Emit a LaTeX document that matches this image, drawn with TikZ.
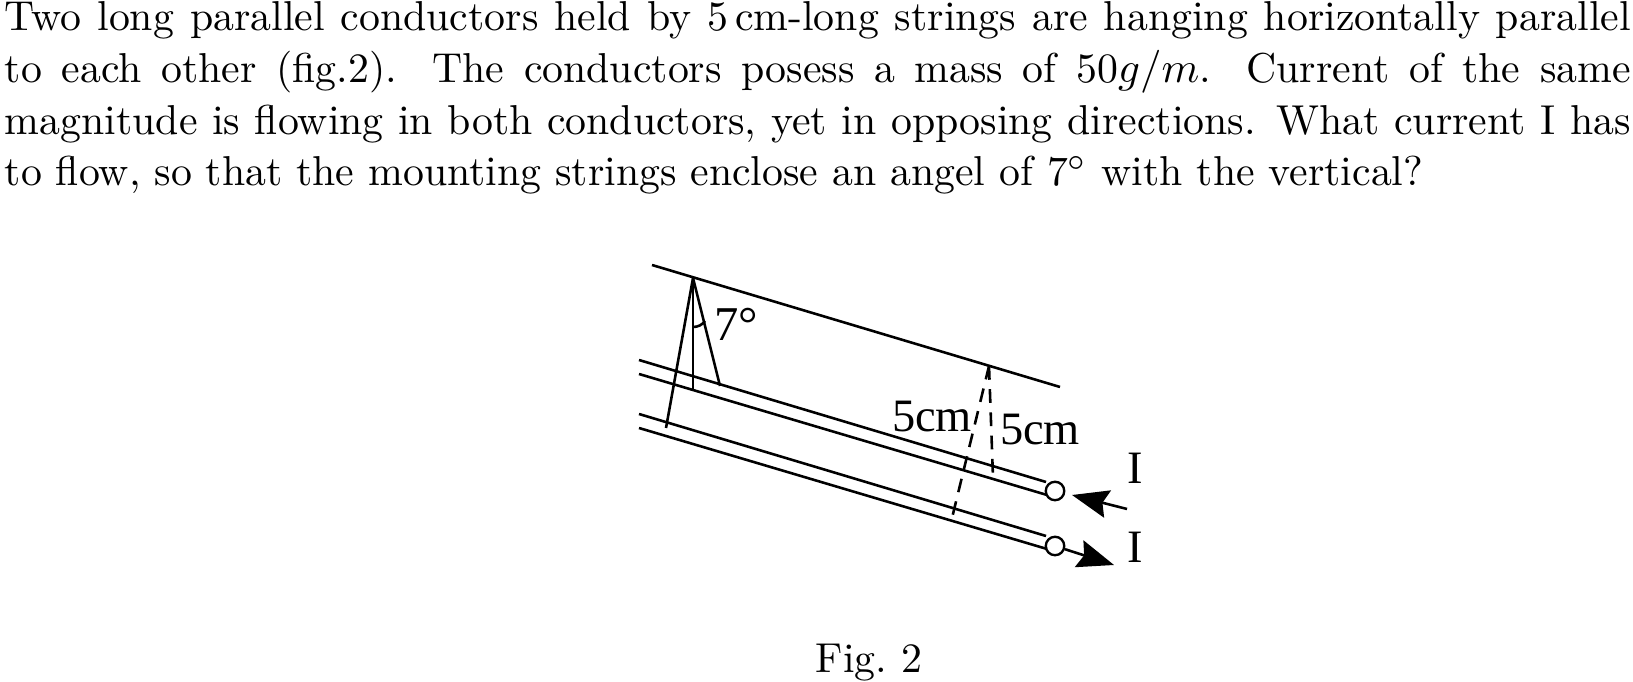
\documentclass[tikz,border=0pt]{standalone}
\usepackage{fontspec}
\newfontfamily\figfont{Liberation Serif}
\usetikzlibrary{arrows.meta}
\tikzset{
  px/.style={x=0.2326pt,y=-0.2326pt},
  wire/.style={line width=0.6pt},
  dashwire/.style={line width=0.6pt,dash pattern=on 3.2pt off 2.2pt},
  hole/.style={circle,draw,line width=0.55pt,minimum size=4.3pt,inner sep=0pt},
  figlabel/.style={font=\figfont\fontsize{10.8}{12}\selectfont,inner sep=0pt},
  cur/.style={wire,-{Stealth[length=8.5pt,width=6.5pt,inset=1.2pt]}}
}
\begin{document}
\begin{tikzpicture}[px]
\useasboundingbox (0,0) rectangle (1633,682);
\node[anchor=north west,inner sep=0pt,text width=378.2pt,align=justify] (para) at (4,1) {\fontsize{9.72}{12}\selectfont
Two long parallel conductors held by 5\,cm-long strings are hanging horizontally parallel to each other (fig.2). The conductors posess a mass of 50$g/m$. Current of the same magnitude is flowing in both conductors, yet in opposing directions. What current I has to flow, so that the mounting strings enclose an angel of 7$^\circ$ with the vertical?};
% support
\coordinate (s1) at (652,265); \coordinate (s2) at (1060,387);
\draw[wire] (s1) -- (s2);
% conductors
\coordinate (a1) at (639,360); \coordinate (a2) at (1046,482);
\coordinate (b1) at (639,374); \coordinate (b2) at (1047,495);
\coordinate (c1) at (639,414); \coordinate (c2) at (1046,536);
\coordinate (d1) at (639,428); \coordinate (d2) at (1047,549);
\draw[wire] (a1) -- (a2); \draw[wire] (b1) -- (b2);
\draw[wire] (c1) -- (c2); \draw[wire] (d1) -- (d2);
\node[hole] (h1) at (1055,491) {};
\node[hole] (h2) at (1055,546) {};
% strings
\coordinate (apex) at (693,278);
\coordinate (vert) at (693,389); \coordinate (sl) at (666,428); \coordinate (sr) at (720,386);
\draw[wire] (apex) -- (vert); \draw[wire] (apex) -- (sl); \draw[wire] (apex) -- (sr);
\coordinate (arcA) at (693,327); \coordinate (arcB) at (705,321);
\draw[wire] (arcA) .. controls (698,327) and (702,325) .. (arcB);
% dashed
\coordinate (dapex) at (989,366); \coordinate (dl) at (952,518); \coordinate (dr) at (993,478);
\draw[dashwire] (dapex) -- (dl); \draw[dashwire] (dapex) -- (dr);
% currents
\coordinate (i1s) at (1127,509); \coordinate (i1e) at (1072,495);
\coordinate (i2e) at (1114,565);
\draw[cur] (i1s) -- (i1e);
\draw[cur] (h2) -- (i2e);
% labels
\node[figlabel,font=\figfont\fontsize{11.3}{14}\selectfont] (l7) at (736,324) {7°};
\node[figlabel] (l5a) at (932,417) {5cm};
\node[figlabel] (l5b) at (1040,430) {5cm};
\node[figlabel] (lI1) at (1135,468) {I};
\node[figlabel] (lI2) at (1135,547) {I};
\node[inner sep=0pt] (cap) at (869,663) {\fontsize{9.72}{12}\selectfont Fig.\ 2};
\end{tikzpicture}
\end{document}
